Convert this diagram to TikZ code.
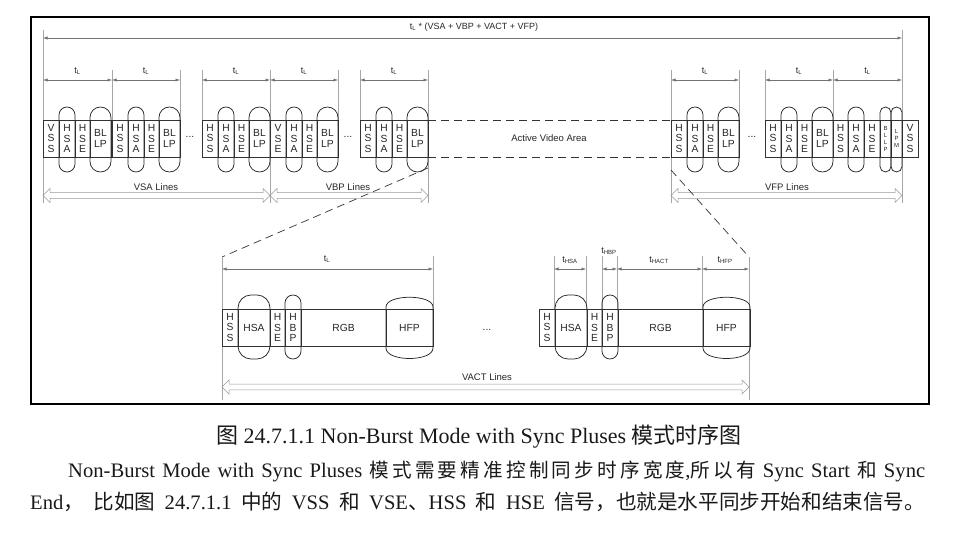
\documentclass[tikz,border=0pt]{standalone}
\usepackage{fontspec}
\setmainfont{Liberation Serif}
\setsansfont{Liberation Sans}
\newfontfamily\cjkc{Noto Sans CJK SC}
\newfontfamily\cjk[Scale=1.0]{Noto Sans CJK SC}
\newfontfamily\cjkw[Scale=0.95,LetterSpace=16.5]{Noto Sans CJK SC}
\usetikzlibrary{arrows.meta}
\newcommand\tcell[6]{%
  \draw[cellbox] ({#2},{#4}) rectangle ({#3},{#5});
  \node[ctext] (#1) at ({(#2+#3)/2},{(#4+#5)/2}) {#6};}
\newcommand\tpill[5]{\draw[pillbox,rounded corners=#5] ({#1},{#3}) rectangle ({#2},{#4});}
\newcommand\tline[6]{%
  \tcell{#1a}{#2}{#2+16}{120}{157}{#3}
  \tcell{#1b}{#2+16}{#2+32}{120}{157}{#4}
  \tcell{#1c}{#2+32}{#2+47}{120}{157}{#5}
  \tcell{#1d}{#2+47}{#2+68}{120}{157}{#6}
  \tpill{#2+16}{#2+32}{107}{172}{7.99pt}
  \tpill{#2+47}{#2+68}{107}{172}{10.49pt}}
\newcommand\harrow[3]{%
  \draw[hollow] ({#1},{#3}) -- ({#1+7},{#3-7}) -- ({#1+7},{#3-2.8}) -- ({#2-7},{#3-2.8}) -- ({#2-7},{#3-7}) -- ({#2},{#3})
    -- ({#2-7},{#3+7}) -- ({#2-7},{#3+2.8}) -- ({#1+7},{#3+2.8}) -- ({#1+7},{#3+7}) -- cycle;}
\begin{document}
\begin{tikzpicture}[x=1pt,y=-1pt,
  cellbox/.style={draw=black!80,line width=0.6pt},
  pillbox/.style={draw=black!85,line width=0.75pt},
  ext/.style={draw=black!35,line width=0.45pt},
  dimline/.style={draw=black!55,line width=0.5pt,{Latex[length=4.5pt,width=3.2pt]}-{Latex[length=4.5pt,width=3.2pt]}},
  hollow/.style={draw=black!40,line width=0.5pt,line join=miter},
  ctext/.style={font=\fontsize{10.3}{10.6}\selectfont\sffamily,align=center,inner sep=0pt,text=black!85},
  stext/.style={font=\fontsize{6}{7}\selectfont\sffamily,align=center,inner sep=0pt,text=black!85},
  lbl/.style={font=\fontsize{9.5}{11}\selectfont\sffamily,inner sep=0pt,text=black!85},
  tlab/.style={font=\fontsize{9}{10}\selectfont\sffamily,inner sep=0pt,text=black!85},
  dashedge/.style={draw=black!80,line width=0.7pt,dash pattern=on 8pt off 5pt},
  captxt/.style={font=\fontsize{22}{24}\selectfont,inner sep=0pt,text=black!90},
  partxt/.style={font=\fontsize{20.6}{24}\selectfont,inner sep=0pt,text=black!90},
]
\useasboundingbox (0,0) rectangle (972,534);
% frame
\draw[line width=1.4pt] (31,17) rectangle (929,404);

% ---- extension lines (top)
\foreach \x in {43,902} \draw[ext] (\x,30) -- (\x,203);
\foreach \x in {270,428,671} \draw[ext] (\x,70) -- (\x,203);
\foreach \x in {112,180,202,338,360,739,765,833} \draw[ext] (\x,70) -- (\x,120);

% ---- top total arrow
\draw[dimline] (43,38) -- (902,38);
\node[tlab] (total) at (474,27) {t\textsubscript{L} * (VSA + VBP + VACT + VFP)};

% ---- tL dimension arrows (top)
\foreach \a/\b [count=\i] in {43/112,112/180,202/270,270/338,360/428,671/739,765/833,833/902}{
  \draw[dimline] (\a,80) -- (\b,80);
  \node[tlab] (tl\i) at ({(\a+\b)/2},71) {t\textsubscript{L}};
}

% ---- top row lines
\tline{la}{43}{V\\S\\S}{H\\S\\A}{H\\S\\E}{BL\\LP}
\tline{lb}{112}{H\\S\\S}{H\\S\\A}{H\\S\\E}{BL\\LP}
\tline{lc}{202}{H\\S\\S}{H\\S\\A}{H\\S\\E}{BL\\LP}
\tline{ld}{270}{V\\S\\E}{H\\S\\A}{H\\S\\E}{BL\\LP}
\tline{le}{360}{H\\S\\S}{H\\S\\A}{H\\S\\E}{BL\\LP}
\tline{lf}{671}{H\\S\\S}{H\\S\\A}{H\\S\\E}{BL\\LP}
\tline{lg}{765}{H\\S\\S}{H\\S\\A}{H\\S\\E}{BL\\LP}
% last line
\tcell{lha}{833}{848}{120}{157}{H\\S\\S}
\tcell{lhb}{848}{864}{120}{157}{H\\S\\A}
\tcell{lhc}{864}{880}{120}{157}{H\\S\\E}
\draw[cellbox] (880,120) rectangle (891,157);
\node[stext] (lhd) at (885.5,138.5) {B\\L\\L\\P};
\draw[cellbox] (891,120) rectangle (902,157);
\node[stext] (lhe) at (896.5,138.5) {L\\P\\M};
\tcell{lhf}{902}{918}{120}{157}{V\\S\\S}
\tpill{848}{864}{107}{172}{7.99pt}
\tpill{880}{891}{107}{172}{5.49pt}
\tpill{891}{902}{107}{172}{5.49pt}

% dots
\node[ctext] (dt1) at (190,137) {...};
\node[ctext] (dt2) at (348,137) {...};
\node[ctext] (dt3) at (752,137) {...};

% active video area
\draw[dashedge] (428,120) -- (671,120);
\draw[dashedge] (428,157) -- (671,157);
\node[lbl] (ava) at (549,138) {Active Video Area};

% hollow arrows top
\harrow{43}{270}{195.5}
\harrow{270}{428}{195.5}
\harrow{671}{902}{195.5}
\node[lbl] (vsa) at (156,187) {VSA Lines};
\node[lbl] (vbp) at (348,187) {VBP Lines};
\node[lbl] (vfp) at (787,187) {VFP Lines};

% zoom dashed lines
\coordinate (zl1) at (428,168);
\coordinate (zl2) at (222,257);
\coordinate (zr1) at (671,170);
\coordinate (zr2) at (749,257);
\draw[dashedge] (zl1) -- (zl2);
\draw[dashedge] (zr1) -- (zr2);

% ---- bottom extension lines
\foreach \x in {222,749} \draw[ext] (\x,257) -- (\x,400);
\foreach \x in {433,554,586,602,617,702} \draw[ext] (\x,256) -- (\x,309);

% bottom dimension arrows
\draw[dimline] (222,269) -- (433,269);
\node[tlab] (btl) at (327,259) {t\textsubscript{L}};
\draw[dimline] (554,269) -- (586,269);
\node[tlab] (bhsa) at (570,260) {t\textsubscript{HSA}};
\draw[dimline] (602,269) -- (617,269);
\node[tlab] (bhbp) at (609,251) {t\textsubscript{HBP}};
\draw[dimline] (617,269) -- (702,269);
\node[tlab] (bhact) at (659,260) {t\textsubscript{HACT}};
\draw[dimline] (702,269) -- (749,269);
\node[tlab] (bhfp) at (725,260) {t\textsubscript{HFP}};

% bottom cells
\foreach \o/\p in {0/A,317/B}{
  \tcell{\p s}{222+\o}{238+\o}{309}{346}{H\\S\\S}
  \tcell{\p a}{238+\o}{270+\o}{309}{346}{HSA}
  \tcell{\p e}{270+\o}{285+\o}{309}{346}{H\\S\\E}
  \tcell{\p b}{285+\o}{301+\o}{309}{346}{H\\B\\P}
  \tcell{\p r}{301+\o}{386+\o}{309}{346}{RGB}
  \tcell{\p f}{386+\o}{433+\o}{309}{346}{HFP}
  \tpill{238+\o}{270+\o}{295}{359}{13pt}
  \tpill{285+\o}{301+\o}{295}{359}{7.99pt}
  \draw[pillbox] ({386+\o},309) -- ({386+\o},307) .. controls ({386+\o},294) and ({433+\o},294) .. ({433+\o},307)
     -- ({433+\o},348) .. controls ({433+\o},362) and ({386+\o},362) .. ({386+\o},348) -- cycle;
}
\node[ctext] (dt4) at (487,330) {...};

% VACT hollow arrow
\harrow{222}{749}{387}
\node[lbl] (vact) at (487,377) {VACT Lines};

% ---- caption text
\node[captxt] (cap) at (479,437) {{\cjkc 图} 24.7.1.1 Non-Burst Mode with Sync Pluses {\cjkc 模式时序图}};
\node[partxt,anchor=base west] (p1) at (68,477) {\makebox[857pt][s]{Non-Burst Mode with Sync Pluses {\cjkw 模式需要精准控制同步时序宽度},{\cjkw 所以有} Sync Start {\cjkw 和} Sync}};
\node[partxt,anchor=base west] (p2) at (30,509) {\makebox[895pt][s]{End{\cjk ，} {\cjk 比如图} 24.7.1.1 {\cjk 中的} VSS {\cjk 和} VSE{\cjk 、}HSS {\cjk 和} HSE {\cjk 信号，也就是水平同步开始和结束信号。}}};
\end{tikzpicture}
\end{document}
